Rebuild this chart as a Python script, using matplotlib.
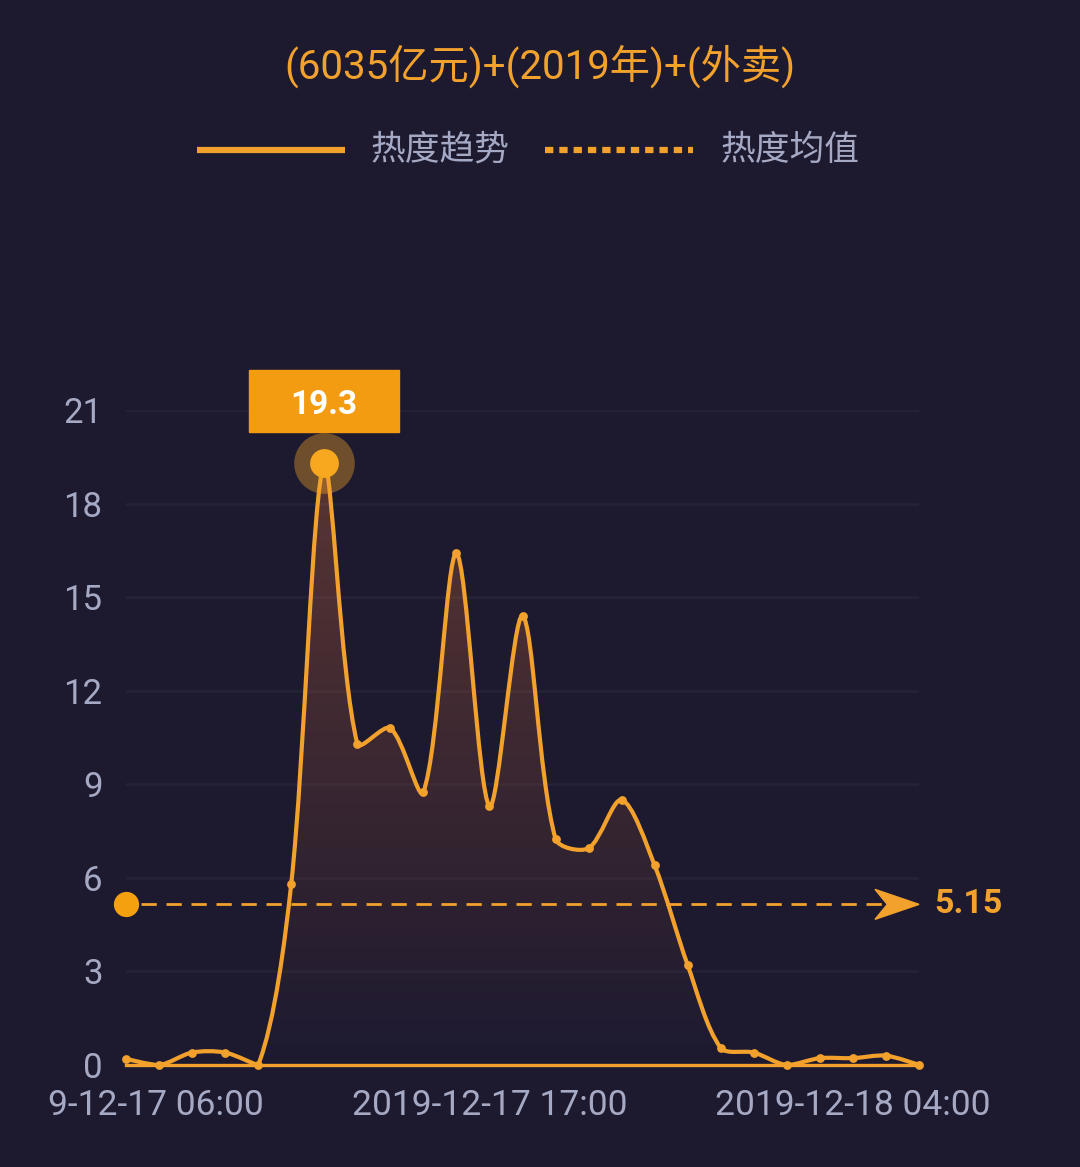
import numpy as np
import matplotlib
matplotlib.use("Agg")
import matplotlib.pyplot as plt
from matplotlib.path import Path
from matplotlib.patches import PathPatch, Rectangle, Polygon
from matplotlib.lines import Line2D

# ---- data ----
TITLE = "(6035亿元)+(2019年)+(外卖)"
SERIES = ["热度趋势", "热度均值"]
hours = ["2019-12-17 06:00", "2019-12-17 07:00", "2019-12-17 08:00", "2019-12-17 09:00",
         "2019-12-17 10:00", "2019-12-17 11:00", "2019-12-17 12:00", "2019-12-17 13:00",
         "2019-12-17 14:00", "2019-12-17 15:00", "2019-12-17 16:00", "2019-12-17 17:00",
         "2019-12-17 18:00", "2019-12-17 19:00", "2019-12-17 20:00", "2019-12-17 21:00",
         "2019-12-17 22:00", "2019-12-17 23:00", "2019-12-18 00:00", "2019-12-18 01:00",
         "2019-12-18 02:00", "2019-12-18 03:00", "2019-12-18 04:00", "2019-12-18 05:00",
         "2019-12-18 06:00"]
heat = [0.2, 0.0, 0.4, 0.4, 0.0, 5.8, 19.3, 10.3, 10.8, 8.75, 16.4, 8.3, 14.4,
        7.25, 6.95, 8.5, 6.4, 3.2, 0.55, 0.4, 0.0, 0.22, 0.22, 0.3, 0.0]
mean_val = 5.15
peak_label = "19.3"
tick_idx = [0, 11, 22]
yticks = [0, 3, 6, 9, 12, 15, 18, 21]

BG = "#1d1a30"
ORANGE = "#f2a12c"
TXT = "#a6a9c4"
FONT = ["Roboto", "Noto Sans CJK SC", "DejaVu Sans"]
plt.rcParams["font.family"] = FONT
plt.rcParams["lines.scale_dashes"] = False

W, H = 1080, 1167
fig = plt.figure(figsize=(W / 100, H / 100), dpi=100, facecolor=BG)
x0, x1, y0, y1 = 126, 919, 1065, 410
ax = fig.add_axes([x0 / W, 1 - y0 / H, (x1 - x0) / W, (y0 - y1) / H], facecolor=BG)
n = len(heat)
xs = np.arange(n)

# pixel scale per data unit, used for smoothing in screen space
sx = (x1 - x0) / (n - 1)
sy = (y0 - y1) / 21.0

# ---- smoothed curve (bezier control points, echarts-like) ----
P = np.column_stack([xs * sx, np.array(heat) * sy])
smooth = 0.3
ymin, ymax = P[:, 1].min(), P[:, 1].max()
cp_in, cp_out = [], []
for i in range(n):
    cur = P[i]
    if i == 0 or i == n - 1:
        cp_in.append(cur.copy()); cp_out.append(cur.copy()); continue
    v = (P[i + 1] - P[i - 1]) * smooth
    d0 = np.hypot(*(cur - P[i - 1])); d1 = np.hypot(*(P[i + 1] - cur))
    s = d0 + d1
    if s:
        d0, d1 = d0 / s, d1 / s
    a = cur - v * d0; b = cur + v * d1
    a[1] = np.clip(a[1], ymin, ymax); b[1] = np.clip(b[1], ymin, ymax)
    cp_in.append(a); cp_out.append(b)
verts = [P[0]]
codes = [Path.MOVETO]
for i in range(n - 1):
    verts += [cp_out[i], cp_in[i + 1], P[i + 1]]
    codes += [Path.CURVE4] * 3
verts = np.array(verts) / np.array([sx, sy])
line_path = Path(verts, codes)

# area fill with vertical gradient (strong at top, fading to the axis)
fill_verts = np.vstack([verts, [[n - 1, 0], [0, 0]], verts[:1]])
fill_codes = codes + [Path.LINETO, Path.LINETO, Path.CLOSEPOLY]
fill_patch = PathPatch(Path(fill_verts, fill_codes), facecolor="none", edgecolor="none")
ax.add_patch(fill_patch)
grad = np.zeros((100, 1, 4))
grad[..., 0], grad[..., 1], grad[..., 2] = 0.88, 0.45, 0.22
grad[:, 0, 3] = np.linspace(0.34, 0.0, 100)
im = ax.imshow(grad, extent=[0, n - 1, 0, 21], origin="upper", aspect="auto", zorder=1)
im.set_clip_path(fill_patch)
ax.set_xlim(0, n - 1)
ax.set_ylim(0, 21)

# grid
for t in yticks[1:]:
    ax.axhline(t, color="#242238", lw=2, zorder=0.5)

ax.add_patch(PathPatch(line_path, facecolor="none", edgecolor=ORANGE, lw=3.0, zorder=3,
                       capstyle="round", joinstyle="round"))
ax.scatter(xs, heat, s=40, color=ORANGE, zorder=4, linewidths=0, clip_on=False)

# axes styling
for sp in ["top", "right", "left"]:
    ax.spines[sp].set_visible(False)
ax.spines["bottom"].set_color(ORANGE)
ax.spines["bottom"].set_linewidth(2.4)
ax.spines["bottom"].set_zorder(2)
ax.set_yticks(yticks)
ax.set_yticklabels([str(t) for t in yticks])
ax.tick_params(axis="y", length=0, pad=17, labelsize=25, labelcolor=TXT)
ax.set_xticks([])

# x labels; the first one is cut by the screen edge in the reference, keep only the visible part
renderer = fig.canvas.get_renderer()
for i in tick_idx:
    t = ax.text(i, -1.3, hours[i], ha="center", va="center", fontsize=25.5, color=TXT)
    if i == 0:
        bb = t.get_window_extent(renderer)
        t.remove()
        ax.annotate(hours[i][3:], xy=(bb.x1, bb.y0 + bb.height / 2), xycoords="figure pixels",
                    ha="right", va="center", fontsize=25.5, color=TXT)

# peak marker + label
pk = int(np.argmax(heat))
ax.scatter([pk], [heat[pk]], s=1900, color="#f5a623", alpha=0.38, zorder=5, linewidths=0,
           clip_on=False)
ax.scatter([pk], [heat[pk]], s=430, color="#f7a81e", zorder=6, linewidths=0, clip_on=False)
bw, bh = 150 / sx, 62 / sy
by = heat[pk] + 31 / sy
ax.add_patch(Rectangle((pk - bw / 2, by), bw, bh, color="#f39c12", zorder=7, clip_on=False))
ax.text(pk, by + bh / 2 - 4 / sy, peak_label, ha="center", va="center", fontsize=24,
        fontweight="bold", color="white", zorder=8, clip_on=False)

# mean line
ax.plot([0.45, n - 1.6], [mean_val, mean_val], color=ORANGE, lw=2.0,
        dashes=(11, 7), zorder=3, clip_on=False)
ax.scatter([0], [mean_val], s=330, color="#f5a00f", zorder=6, clip_on=False, linewidths=0)
ah = 15 / sy
al = 44 / sx
tip = n - 1
ax.add_patch(Polygon([[tip, mean_val], [tip - al, mean_val + ah], [tip - al * 0.72, mean_val],
                      [tip - al, mean_val - ah]], closed=True, color=ORANGE, zorder=6,
                     clip_on=False))
ax.text(tip + 15 / sx, mean_val, f"{mean_val:.2f}", ha="left", va="center", fontsize=24.5,
        fontweight="bold", color=ORANGE, clip_on=False)

# title + legend
fig.text(540 / W, 1 - 66 / H, TITLE, ha="center", va="center", fontsize=29, color=ORANGE)
ly = 1 - 150 / H
fig.add_artist(Line2D([197 / W, 345 / W], [ly, ly], color=ORANGE, lw=4.5,
                      solid_capstyle="butt", transform=fig.transFigure))
fig.text(370 / W, ly, SERIES[0], ha="left", va="center", fontsize=25, color=TXT)
fig.add_artist(Line2D([545 / W, 693 / W], [ly, ly], color=ORANGE, lw=4.5,
                      dashes=(6, 4.3), dash_capstyle="butt", transform=fig.transFigure))
fig.text(720 / W, ly, SERIES[1], ha="left", va="center", fontsize=25, color=TXT)

fig.savefig("out.png", dpi=100, facecolor=BG)
